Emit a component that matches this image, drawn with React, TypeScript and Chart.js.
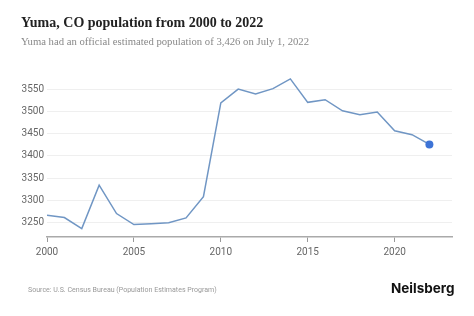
import React, { useEffect, useRef } from "react";
import { Chart, registerables } from "chart.js";

Chart.register(...registerables);

const years = [2000, 2001, 2002, 2003, 2004, 2005, 2006, 2007, 2008, 2009, 2010, 2011, 2012, 2013, 2014, 2015, 2016, 2017, 2018, 2019, 2020, 2021, 2022];
const population = [3266, 3261, 3236, 3334, 3270, 3245, 3247, 3249, 3260, 3308, 3520, 3551, 3540, 3552, 3574, 3521, 3527, 3502, 3493, 3499, 3457, 3448, 3426];
const yTicks = [3250, 3300, 3350, 3400, 3450, 3500, 3550];
const xTicks = [2000, 2005, 2010, 2015, 2020];

const title = "Yuma, CO population from 2000 to 2022";
const subtitle = "Yuma had an official estimated population of 3,426 on July 1, 2022";
const source = "Source: U.S. Census Bureau (Population Estimates Program)";
const brand = "Neilsberg";

export default function App() {
  const canvasRef = useRef<HTMLCanvasElement | null>(null);

  useEffect(() => {
    const canvas = canvasRef.current;
    if (!canvas) return;
    const last = population.length - 1;
    const chart = new Chart(canvas, {
      type: "line",
      data: {
        datasets: [
          {
            data: years.map((y, i) => ({ x: y, y: population[i] })),
            borderColor: "#7096c4",
            borderWidth: 1.5,
            tension: 0,
            pointRadius: population.map((_, i) => (i === last ? 4 : 0)),
            pointBackgroundColor: "#3d73d6",
            pointBorderColor: "#3d73d6",
            pointBorderWidth: 0,
          },
        ],
      },
      options: {
        animation: false,
        responsive: false,
        maintainAspectRatio: false,
        layout: { padding: { left: 0, right: 22, top: 74, bottom: 49 } },
        plugins: { legend: { display: false }, tooltip: { enabled: false } },
        scales: {
          x: {
            type: "linear",
            min: 2000,
            max: 2023.3,
            afterFit: (s: any) => {
              s.height = 30;
            },
            afterBuildTicks: (s: any) => {
              s.ticks = xTicks.map((v) => ({ value: v }));
            },
            ticks: {
              color: "#666",
              font: { family: "Roboto", size: 10 },
              padding: 4,
              maxRotation: 0,
              callback: (v: any) => String(v),
            },
            grid: {
              drawOnChartArea: false,
              drawTicks: true,
              tickLength: 5,
              color: "#999",
              lineWidth: 1,
            },
            border: { display: true, color: "#aaa", width: 1.5 },
          },
          y: {
            min: 3217,
            max: 3585,
            afterFit: (s: any) => {
              s.width = 47;
            },
            afterBuildTicks: (s: any) => {
              s.ticks = yTicks.map((v) => ({ value: v }));
            },
            ticks: {
              color: "#666",
              font: { family: "Roboto", size: 10 },
              padding: 3,
              callback: (v: any) => String(v),
            },
            grid: { color: "#efefef", lineWidth: 1, drawTicks: false },
            border: { display: false },
          },
        },
      },
    });
    return () => chart.destroy();
  }, []);

  return (
    <div style={{ position: "fixed", left: 0, top: 0, width: 474, height: 316, background: "#fff", overflow: "hidden" }}>
      <canvas ref={canvasRef} width={474} height={316} style={{ position: "absolute", left: 0, top: 0 }} />
      <div style={{ position: "absolute", left: 21, top: 15, fontFamily: "'Liberation Serif', serif", fontWeight: 700, fontSize: 14, color: "#222", whiteSpace: "nowrap" }}>
        {title}
      </div>
      <div style={{ position: "absolute", left: 21, top: 35, fontFamily: "'Liberation Serif', serif", fontSize: 10.7, color: "#888", whiteSpace: "nowrap" }}>
        {subtitle}
      </div>
      <div style={{ position: "absolute", left: 28, top: 285, fontFamily: "Roboto, sans-serif", fontSize: 8, color: "#999", whiteSpace: "nowrap", transform: "scaleX(0.88)", transformOrigin: "left top" }}>
        {source}
      </div>
      <div style={{ position: "absolute", left: 391, top: 280, fontFamily: "Inter, sans-serif", fontWeight: 700, fontSize: 13.5, color: "#111", whiteSpace: "nowrap" }}>
        {brand}
      </div>
    </div>
  );
}
